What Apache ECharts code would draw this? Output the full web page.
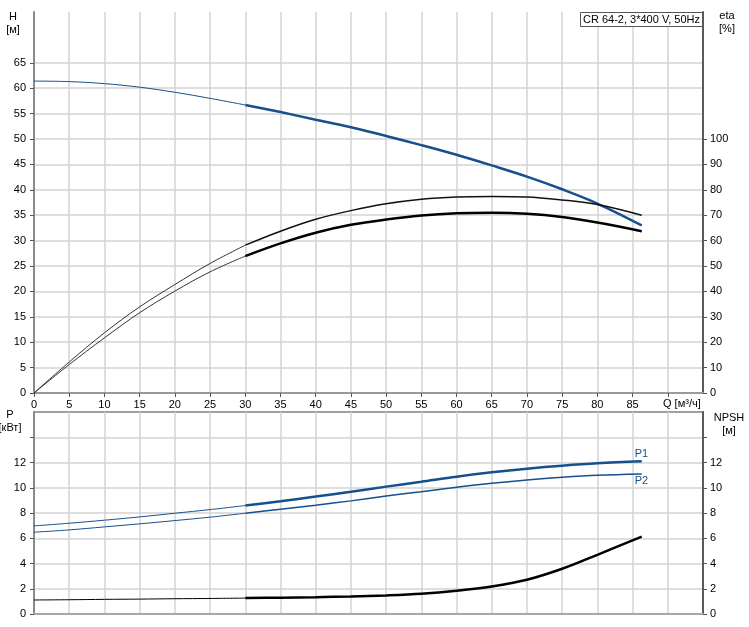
<!DOCTYPE html>
<html>
<head>
<meta charset="utf-8">
<script src="https://cdn.jsdelivr.net/npm/echarts@6/dist/echarts.min.js"></script>
<style>html,body{margin:0;padding:0;background:#fff;}#c{width:749px;height:627px;}</style>
</head>
<body>
<div id="c"></div>
<script>
// ---- data ----
var Q      = [0, 5, 10, 15, 20, 25, 30, 35, 40, 45, 50, 55, 60, 65, 70, 75, 80, 86.3];
var H      = [61.4, 61.3, 60.9, 60.2, 59.2, 58.0, 56.7, 55.3, 53.8, 52.3, 50.6, 48.8, 46.9, 44.8, 42.6, 40.1, 37.3, 33.0];
var etaP   = [0, 12.2, 23.7, 33.9, 42.7, 51.0, 58.2, 63.7, 68.4, 71.8, 74.5, 76.3, 77.2, 77.4, 77.2, 76.0, 74.2, 70.0];
var etaT   = [0, 11.2, 21.7, 31.6, 40.1, 47.7, 53.9, 58.9, 63.1, 66.2, 68.3, 69.9, 70.8, 71.0, 70.6, 69.3, 67.1, 63.7];
var P1     = [6.98, 7.19, 7.43, 7.69, 7.98, 8.27, 8.59, 8.93, 9.30, 9.69, 10.09, 10.48, 10.88, 11.22, 11.51, 11.75, 11.94, 12.09];
var P2     = [6.48, 6.66, 6.90, 7.14, 7.40, 7.67, 7.98, 8.30, 8.62, 8.96, 9.35, 9.69, 10.04, 10.36, 10.62, 10.83, 10.99, 11.09];
var NPSH   = [1.11, 1.13, 1.16, 1.18, 1.21, 1.23, 1.26, 1.29, 1.33, 1.39, 1.47, 1.60, 1.84, 2.18, 2.71, 3.58, 4.69, 6.13];
var splitIdx = 6; // Q = 30: thin part before, thick part after
var titleText = 'CR 64-2, 3*400 V, 50Hz';
var qTicks   = [0,5,10,15,20,25,30,35,40,45,50,55,60,65,70,75,80,85,90];
var hTicks   = [0,5,10,15,20,25,30,35,40,45,50,55,60,65];
var etaTicks = [0,10,20,30,40,50,60,70,80,90,100];
var pTicks   = [0,2,4,6,8,10,12,14];

function pairs(ys, from, to){ var r=[]; for(var i=from;i<to;i++) r.push([Q[i], ys[i]]); return r; }
function thin(ys){ return pairs(ys, 0, splitIdx+1); }
function thick(ys){ return pairs(ys, splitIdx, Q.length); }

var BLUE = '#154f8d';
var FONT = 'Liberation Sans, Arial, sans-serif';
var GRIDC = '#d3d3d3';
var lbl = {color:'#000', fontSize:11, fontFamily:FONT};
var nameStyle = {color:'#000', fontSize:11, fontFamily:FONT, lineHeight:13};

function line(name, data, xi, yi, color, w, extra){
  var s = {type:'line', name:name, data:data, xAxisIndex:xi, yAxisIndex:yi, smooth:0.35,
    showSymbol:false, symbol:'none', lineStyle:{color:color, width:w}, itemStyle:{color:color}, z:3};
  if(extra) for(var k in extra) s[k]=extra[k];
  return s;
}

var chart = echarts.init(document.getElementById('c'), null, {renderer:'canvas'});
chart.setOption({
  animation:false,
  backgroundColor:'#fff',
  title:{text:titleText, right:46, top:12, padding:[2,3,2,3], borderColor:'#555', borderWidth:1,
    backgroundColor:'#fff', textStyle:{fontSize:11, fontWeight:'normal', color:'#000', fontFamily:FONT}},
  grid:[
    {left:34, right:46, top:12, height:381, containLabel:false, outerBoundsMode:'none'},
    {left:34, right:46, top:412, height:202, containLabel:false, outerBoundsMode:'none',
      show:true, borderColor:'#a0a0a0', borderWidth:2, backgroundColor:'transparent'}
  ],
  xAxis:[
    {gridIndex:0, type:'value', min:0, max:95, interval:5,
      name:'Q [м³/ч]', nameLocation:'end', nameGap:-40, nameMoveOverlap:false,
      nameTextStyle:{color:'#000', fontSize:11, fontFamily:FONT, verticalAlign:'top', padding:[5,0,0,0]},
      axisLine:{onZero:false, lineStyle:{color:'#9a9a9a', width:2}},
      axisTick:{show:true, length:4, customValues:qTicks, lineStyle:{color:'#555'}},
      axisLabel:Object.assign({margin:6, formatter:function(v){return v<=85? String(v):'';}}, lbl),
      splitLine:{show:true, lineStyle:{color:GRIDC, width:1.5}}},
    {gridIndex:1, type:'value', min:0, max:95, interval:5,
      axisLine:{onZero:false, lineStyle:{color:'#a8a8a8', width:2}},
      axisTick:{show:false}, axisLabel:{show:false},
      splitLine:{show:true, lineStyle:{color:GRIDC, width:1.5}}}
  ],
  yAxis:[
    {gridIndex:0, type:'value', min:0, max:75, interval:5, position:'left',
      name:'H\n[м]', nameLocation:'end', nameGap:-24, nameMoveOverlap:false,
      nameTextStyle:Object.assign({padding:[0,42,0,0]}, nameStyle),
      axisLine:{onZero:false, lineStyle:{color:'#8a8a8a', width:2}},
      axisTick:{show:true, length:4, customValues:hTicks, lineStyle:{color:'#555'}},
      axisLabel:Object.assign({margin:8, formatter:function(v){return v<=65? String(v):'';}}, lbl),
      splitLine:{show:true, lineStyle:{color:GRIDC, width:1.5}}},
    {gridIndex:0, type:'value', min:0, max:150, interval:10, position:'right',
      name:'eta\n[%]', nameLocation:'end', nameGap:-23, nameMoveOverlap:false,
      nameTextStyle:Object.assign({padding:[0,0,0,48]}, nameStyle),
      axisLine:{onZero:false, lineStyle:{color:'#5a5a5a', width:2}},
      axisTick:{show:true, length:4, customValues:etaTicks, lineStyle:{color:'#555'}},
      axisLabel:Object.assign({margin:7, formatter:function(v){return v<=100? String(v):'';}}, lbl),
      splitLine:{show:false}},
    {gridIndex:1, type:'value', min:0, max:16, interval:2, position:'left',
      name:'P\n[кВт]', nameLocation:'end', nameGap:-22, nameMoveOverlap:false,
      nameTextStyle:Object.assign({padding:[0,48,0,0]}, nameStyle),
      axisLine:{onZero:false, lineStyle:{color:'#8a8a8a', width:2}},
      axisTick:{show:true, length:4, customValues:pTicks, lineStyle:{color:'#555'}},
      axisLabel:Object.assign({margin:8, formatter:function(v){return v<=12? String(v):'';}}, lbl),
      splitLine:{show:true, lineStyle:{color:GRIDC, width:1.5}}},
    {gridIndex:1, type:'value', min:0, max:16, interval:2, position:'right',
      name:'NPSH\n[м]', nameLocation:'end', nameGap:-25, nameMoveOverlap:false,
      nameTextStyle:Object.assign({padding:[0,0,0,52]}, nameStyle),
      axisLine:{onZero:false, lineStyle:{color:'#5a5a5a', width:2}},
      axisTick:{show:true, length:4, customValues:pTicks, lineStyle:{color:'#555'}},
      axisLabel:Object.assign({margin:7, formatter:function(v){return v<=12? String(v):'';}}, lbl),
      splitLine:{show:false}}
  ],
  series:[
    line('H', thin(H), 0, 0, BLUE, 1),
    line('H', thick(H), 0, 0, BLUE, 2.5),
    line('eta', thin(etaP), 0, 1, '#333', 1),
    line('eta', thick(etaP), 0, 1, '#111', 1.5),
    line('eta total', thin(etaT), 0, 1, '#333', 1),
    line('eta total', thick(etaT), 0, 1, '#000', 2.5),
    line('P1', thin(P1), 1, 2, BLUE, 1),
    line('P1', thick(P1), 1, 2, BLUE, 2.5, {endLabel:{show:true, formatter:'P1', color:BLUE, fontSize:11, fontFamily:FONT, offset:[-15,-7]}}),
    line('P2', thin(P2), 1, 2, BLUE, 1),
    line('P2', thick(P2), 1, 2, BLUE, 1.5, {endLabel:{show:true, formatter:'P2', color:BLUE, fontSize:11, fontFamily:FONT, offset:[-15,7]}}),
    line('NPSH', thin(NPSH), 1, 3, '#000', 1),
    line('NPSH', thick(NPSH), 1, 3, '#000', 2.5)
  ]
});
</script>
</body>
</html>
